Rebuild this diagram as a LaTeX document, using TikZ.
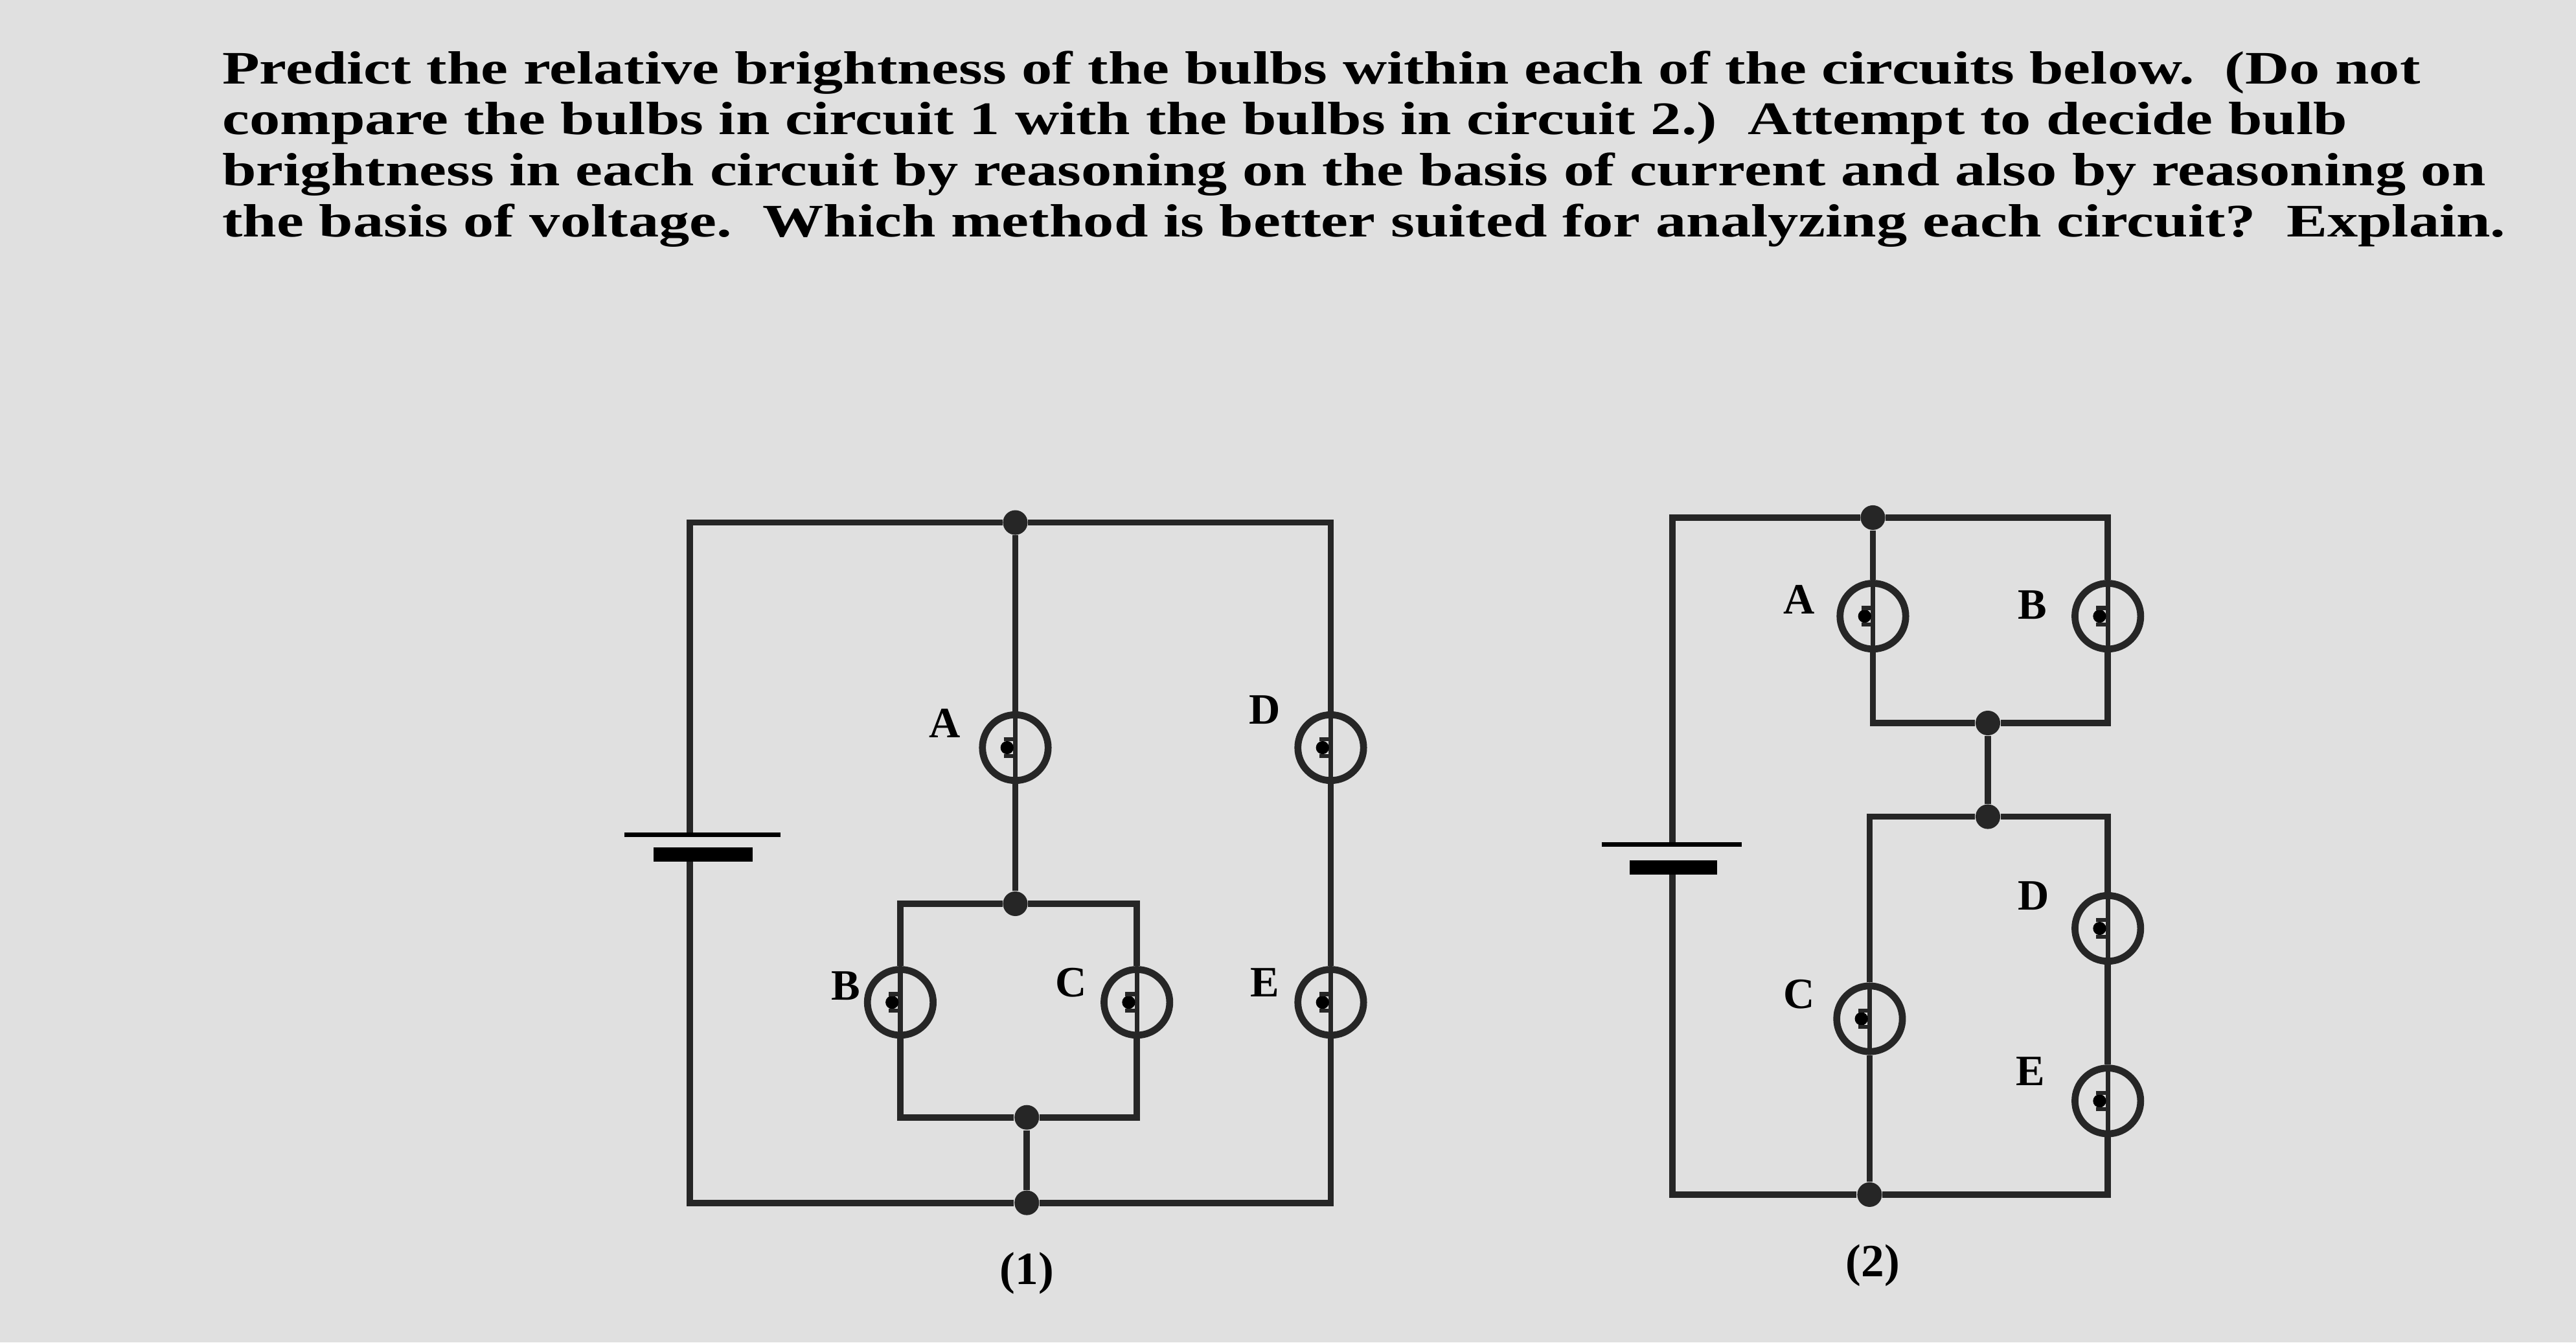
\documentclass[tikz,border=0pt]{standalone}
\usepackage{fontspec}
\usepackage{graphicx}
\setmainfont{Liberation Serif}
\begin{document}
\begin{tikzpicture}[x=0.02cm,y=-0.02cm,
  wire/.style={line width=2.2pt,draw=black!85},
  bulb/.style={circle,draw=black!85,line width=2.4pt,minimum size=0.8cm,inner sep=0pt,
    path picture={\draw[line width=1.6pt] (path picture bounding box.north) -- (path picture bounding box.south);
      \fill ([xshift=-0.1cm]path picture bounding box.center) circle[radius=0.08cm];
      \draw[line width=1.4pt] ([xshift=-0.14cm,yshift=0.1cm]path picture bounding box.center) -- ([yshift=0.1cm]path picture bounding box.center)
        ([xshift=-0.14cm,yshift=-0.1cm]path picture bounding box.center) -- ([yshift=-0.1cm]path picture bounding box.center);}},
  dot/.style={circle,fill=black!85,inner sep=0pt,minimum size=0.3cm},
  lbl/.style={font=\bfseries\fontsize{15}{15}\selectfont},
  txt/.style={anchor=base west,inner sep=0pt,font=\bfseries\fontsize{19}{19}\selectfont}]
\useasboundingbox (0,0) rectangle (1568,817);
\fill[black!12] (0,0) rectangle (1568,817);
\node[txt] (t1) at (135,51) {\scalebox{1.115}[0.85]{Predict the relative brightness of the bulbs within each of the circuits below.\ \ (Do not}};
\node[txt] (t2) at (135,82) {\scalebox{1.115}[0.85]{compare the bulbs in circuit 1 with the bulbs in circuit 2.)\ \ Attempt to decide bulb}};
\node[txt] (t3) at (135,113) {\scalebox{1.115}[0.85]{brightness in each circuit by reasoning on the basis of current and also by reasoning on}};
\node[txt] (t4) at (135,144) {\scalebox{1.115}[0.85]{the basis of voltage.\ \ Which method is better suited for analyzing each circuit?\ \ Explain.}};
% circuit 1
\coordinate (a1) at (420,318); \node[dot] (j1) at (618,318) {}; \coordinate (a2) at (810,318);
\coordinate (a3) at (810,732); \node[dot] (j4) at (625,732) {}; \coordinate (a4) at (420,732);
\node[bulb] (A1) at (618,455) {}; \node[bulb] (D1) at (810,455) {};
\node[dot] (j2) at (618,550) {}; \coordinate (b1) at (548,550); \coordinate (b2) at (692,550);
\node[bulb] (B1) at (548,610) {}; \node[bulb] (C1) at (692,610) {}; \node[bulb] (E1) at (810,610) {};
\coordinate (b3) at (548,680); \coordinate (b4) at (692,680); \node[dot] (j3) at (625,680) {};
\coordinate (p1) at (420,508); \coordinate (p2) at (420,522);
\draw[wire] (p1) -- (a1) -- (j1) -- (a2) -- (D1.north);
\draw[wire] (j1) -- (A1.north); \draw[wire] (A1.south) -- (j2);
\draw[wire] (B1.north) -- (b1) -- (j2) -- (b2) -- (C1.north);
\draw[wire] (B1.south) -- (b3) -- (j3) -- (b4) -- (C1.south);
\draw[wire] (j3) -- (j4);
\draw[wire] (D1.south) -- (E1.north); \draw[wire] (E1.south) -- (a3) -- (j4) -- (a4) -- (p2);
\draw[line width=1.6pt] (380,508) -- (475,508);
\draw[line width=5pt] (398,520) -- (458,520);
\node[lbl] (lA1) at (575,440) {A}; \node[lbl] (lD1) at (770,432) {D};
\node[lbl] (lB1) at (515,600) {B}; \node[lbl] (lC1) at (652,598) {C}; \node[lbl] (lE1) at (770,598) {E};
\node[font=\bfseries\fontsize{16}{16}\selectfont] (n1) at (625,775) {(1)};
% circuit 2
\coordinate (c1) at (1018,315); \node[dot] (k1) at (1140,315) {}; \coordinate (c2) at (1283,315);
\node[bulb] (A2) at (1140,375) {}; \node[bulb] (B2) at (1283,375) {};
\coordinate (c3) at (1140,440); \node[dot] (k2) at (1210,440) {}; \coordinate (c4) at (1283,440);
\node[dot] (k3) at (1210,497) {}; \coordinate (c5) at (1140,497); \coordinate (c6) at (1283,497);
\node[bulb] (C2) at (1138,620) {}; \node[bulb] (D2) at (1283,565) {}; \node[bulb] (E2) at (1283,670) {};
\coordinate (c7) at (1283,727); \node[dot] (k4) at (1138,727) {}; \coordinate (c8) at (1018,727);
\coordinate (q1) at (1018,514); \coordinate (q2) at (1018,528);
\draw[wire] (q1) -- (c1) -- (k1) -- (c2) -- (B2.north);
\draw[wire] (k1) -- (A2.north); \draw[wire] (A2.south) -- (c3) -- (k2) -- (c4) -- (B2.south);
\draw[wire] (k2) -- (k3);
\draw[wire] (C2.north) -- (C2.north |- c5) -- (k3) -- (c6) -- (D2.north);
\draw[wire] (D2.south) -- (E2.north); \draw[wire] (E2.south) -- (c7) -- (k4) -- (c8) -- (q2);
\draw[wire] (C2.south) -- (k4);
\draw[line width=1.6pt] (975,514) -- (1060,514);
\draw[line width=5pt] (992,528) -- (1045,528);
\node[lbl] (lA2) at (1095,365) {A}; \node[lbl] (lB2) at (1237,368) {B};
\node[lbl] (lD2) at (1238,545) {D}; \node[lbl] (lC2) at (1095,605) {C}; \node[lbl] (lE2) at (1236,652) {E};
\node[font=\bfseries\fontsize{16}{16}\selectfont] (n2) at (1140,770) {(2)};
\end{tikzpicture}
\end{document}
